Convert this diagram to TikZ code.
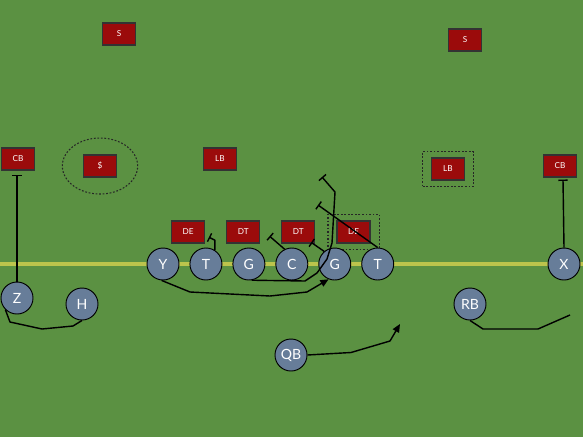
\documentclass[tikz,border=0pt]{standalone}
\usepackage{fontspec}
\setsansfont{Lato}
\usepackage{tikz}
\usetikzlibrary{positioning,arrows.meta,shapes.geometric}

\definecolor{turf}{HTML}{5B9142}
\definecolor{los}{HTML}{BCC44C}
\definecolor{defred}{HTML}{9B0B0B}
\definecolor{offblue}{HTML}{677D99}

\begin{document}
\begin{tikzpicture}[x = 0.03cm, y = -0.03cm,
    every node/.style = { text = white },
    dbox/.style = { draw = black!80, fill = defred, line width = 1pt, minimum width = 0.99cm, minimum height = 0.66cm, inner sep = 0pt, font = \sffamily\scriptsize },
    pl/.style = { draw = black, fill = offblue, line width = 0.8pt, shape = circle, minimum size = 0.96cm, inner sep = 0pt, font = \sffamily\large },
    zone/.style = { draw = black!85, line width = 0.9pt, dash pattern = on 1.5pt off 1.5pt, inner sep = 0pt },
    route/.style = { draw = black, line width = 1.2pt, line join = round },
    block/.style = { route, -{Bar[width = 8pt, line width = 1.2pt]} },
    run/.style = { route, -{Triangle[length = 7pt, width = 6pt]} }]

    \fill[turf] (0,0) rectangle (583,437);
    \useasboundingbox (0,0) rectangle (583,437);
    \draw[los, line width = 2.8pt] (0,264) -- (583,264);

    % defense
    \node[dbox] (s1) at (119,34) {S};
    \node[dbox] (s2) at (465,40) {S};
    \node[dbox] (cb1) at (18,159) {CB};
    \node[dbox] (ss) at (100,166) {\$};
    \node[dbox] (lb1) at (220,159) {LB};
    \node[dbox] (lb2) at (448,169) {LB};
    \node[dbox] (cb2) at (560,166) {CB};
    \node[dbox] (de1) at (188,232) {DE};
    \node[dbox, right = 0.63cm of de1] (dt1) {DT};
    \node[dbox, right = 0.63cm of dt1] (dt2) {DT};
    \node[dbox, right = 0.63cm of dt2] (de2) {DE};

    \node[zone, ellipse, minimum width = 2.26cm, minimum height = 1.68cm] (ssz) at (ss) {};
    \node[zone, minimum width = 1.51cm, minimum height = 1.05cm] (lbz) at (lb2) {};
    \node[zone, minimum width = 1.53cm, minimum height = 1.07cm] (dez) at (de2) {};

    % offense
    \node[pl] (y) at (163,264) {Y};
    \node[pl, right = 0.3cm of y] (t1) {T};
    \node[pl, right = 0.3cm of t1] (g1) {G};
    \node[pl, right = 0.3cm of g1] (c) {C};
    \node[pl, right = 0.3cm of c] (g2) {G};
    \node[pl, right = 0.3cm of g2] (t2) {T};
    \node[pl] (x) at (564,264) {X};
    \node[pl] (z) at (17,298) {Z};
    \node[pl] (h) at (82,304) {H};
    \node[pl] (rb) at (470,304) {RB};
    \node[pl] (qb) at (291,355) {QB};

    % routes
    \draw[block] (z.north) -- ++(0,-107);
    \draw[block] (x.north) -- ++(-1,-68);
    \draw[route] (z.south west) -- (10,322) -- (42,329) -- (73,326) -- (h.south);
    \draw[route] (rb.south) -- (483,329) -- (538,329) -- (570,315);
    \draw[run] (qb.east) -- (351,352.5) -- (390,341) -- (400,324);
    \draw[run] (y.-95) -- (190,292) -- (270,296) -- (307,292) -- (g2.-112);
    \draw[block] (g1.-80) -- (305,281) -- (317,273) -- (327,259) -- (332,243) -- (335,192) -- (322,177);
    \draw[block] (t2.north) -- (318,205);
    \draw[block] (t1.57) -- ++(0,-10) -- ++(-6,-3);
    \draw[block] (c.116) -- ++(-15,-13);
    \draw[block] (g2.130) -- ++(-13,-9);

\end{tikzpicture}
\end{document}
